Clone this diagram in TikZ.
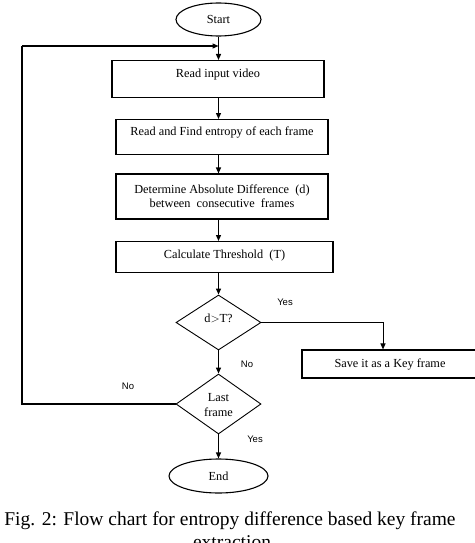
\documentclass[tikz,border=0pt]{standalone}
\usepackage{fontspec}
\setmainfont{Liberation Serif}
\newfontfamily\labfont{Liberation Sans}
\usetikzlibrary{shapes.geometric,arrows.meta}
\begin{document}
\begin{tikzpicture}[x=1pt,y=-1pt,
  box/.style={draw,line width=1.1pt,rectangle,inner sep=0pt,font=\fontsize{12.3}{15}\selectfont,align=center},
  term/.style={draw,line width=1.1pt,ellipse,inner sep=0pt,font=\fontsize{12.3}{15}\selectfont},
  dec/.style={draw,line width=0.9pt,diamond,inner sep=0pt,font=\fontsize{12.3}{15}\selectfont,align=center},
  lab/.style={font=\labfont\fontsize{9.5}{11}\selectfont,inner sep=0pt},
  arr/.style={line width=1.3pt,-{Triangle[length=6pt,width=5pt]}},
  ln/.style={line width=1.3pt}]
\useasboundingbox (0,0) rectangle (474,543);
\fill[white] (0,0) rectangle (474,543);
\node[term,minimum width=85,minimum height=33] (start) at (218.5,19.5) {Start};
\node[box,minimum width=212,text height=17,text depth=20,anchor=north] (read) at (218,60) {Read input video};
\node[box,minimum width=212,text height=16,text depth=19,anchor=north] (read2) at (222,119) {Read and Find entropy of each frame};
\node[box,minimum width=212,minimum height=45] (det) at (222,196.5) {Determine Absolute Difference\ \ (d)\\[-1pt]between\ \ consecutive\ \ frames};
\node[box,minimum width=217,text height=17,text depth=14,anchor=north] (calc) at (224.5,241) {Calculate Threshold\ \ (T)};
\node[dec,minimum width=85,minimum height=55] (dt) at (218.5,322.5) {};
\node[font=\fontsize{12.3}{15}\selectfont,inner sep=0pt] (dtt) at (218.5,318) {d$>$T?};
\node[box,minimum width=176,minimum height=28] (save) at (390,364) {Save it as a Key frame};
\node[dec,minimum width=85,minimum height=60] (last) at (218.5,404) {};
\node[font=\fontsize{12.3}{15}\selectfont,align=center,inner sep=0pt] (lastt) at (218.5,405) {Last\\frame};
\node[term,minimum width=99,minimum height=34] (end) at (218.5,476) {End};
\coordinate (m) at (218.5,46);
\coordinate (lb) at (22,404);
\coordinate (lt) at (22,46);
\coordinate (rt) at (383,322.5);
\draw[ln] (start) -- (m);
\draw[arr] (m) -- (read.north -| m);
\draw[arr] (read.south -| m) -- (read2.north -| m);
\draw[arr] (read2.south -| m) -- (det.north -| m);
\draw[arr] (det.south -| m) -- (calc.north -| m);
\draw[arr] (calc.south -| m) -- (dt.north);
\draw[arr] (dt.south) -- (last.north);
\draw[arr] (last.south) -- (end);
\draw[arr,line width=1pt] (dt.east) -- (rt) -- (save.north -| rt);
\draw[ln] (last.west) -- (lb) -- (lt);
\draw[arr] (lt) -- (m);
\node[lab] (yes1) at (285,302) {Yes};
\node[lab] (no1) at (247,364) {No};
\node[lab] (no2) at (128,386) {No};
\node[lab] (yes2) at (255,439) {Yes};
\node[font=\fontsize{19.5}{22}\selectfont,anchor=base,inner sep=0pt] (cap1) at (230,525) {Fig. 2: Flow chart for entropy difference based key frame};
\node[font=\fontsize{19.5}{22}\selectfont,anchor=base,inner sep=0pt] (cap2) at (232,548) {extraction};
\end{tikzpicture}
\end{document}
